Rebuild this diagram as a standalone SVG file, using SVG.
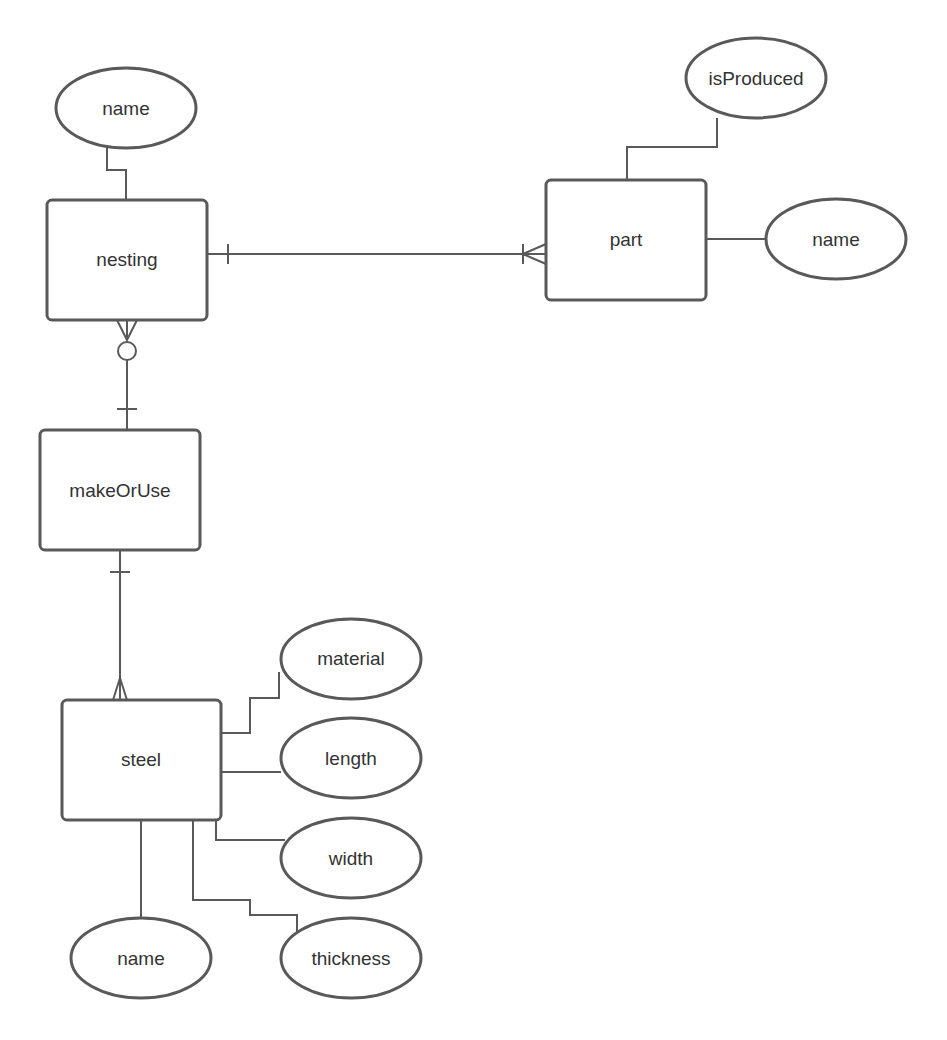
<svg xmlns="http://www.w3.org/2000/svg" width="947" height="1040" viewBox="0 0 947 1040">
<style>
.e{fill:#fff;stroke:#595959;stroke-width:3}
.t{font-family:"Liberation Sans",Arial,sans-serif;font-size:19px;fill:#333;text-anchor:middle;dominant-baseline:central}
.c path,.c circle,.c line{fill:none;stroke:#595959;stroke-width:2}
.c circle{fill:#fff}
</style>
<rect width="947" height="1040" fill="#fff"/>
<g class="c" id="connectors">
<path d="M107,148 V170 H126 V200"/>
<path d="M717,118 V147 H627 V180"/>
<path d="M706,239 H766"/>
<path d="M207,254 H546 M228,244 V264 M523,244 V264 M523,254 L546,244 M523,254 L546,264"/>
<path d="M117,320 L127,340 L137,320 M127,320 V340"/>
<circle cx="127" cy="351" r="9"/>
<path d="M127,360 V430 M117,409 H137"/>
<path d="M120,550 V700 M110,572 H130 M113,700 L120,678 L127,700"/>
<path d="M221,733 H250 V698 H279 V672"/>
<path d="M221,772 H281"/>
<path d="M216,820 V840 H285"/>
<path d="M193,820 V900 H250 V915 H297 V932"/>
<path d="M141,820 V918"/>
</g>
<g id="nesting"><rect class="e" x="47" y="200" width="160" height="120" rx="5"/><text class="t" x="127" y="259">nesting</text></g>
<g id="nesting-name"><ellipse class="e" cx="126" cy="108" rx="70" ry="40"/><text class="t" x="126" y="108">name</text></g>
<g id="part"><rect class="e" x="546" y="180" width="160" height="120" rx="5"/><text class="t" x="626" y="239">part</text></g>
<g id="isProduced"><ellipse class="e" cx="756" cy="78" rx="70" ry="40"/><text class="t" x="756" y="78">isProduced</text></g>
<g id="part-name"><ellipse class="e" cx="836" cy="239" rx="70" ry="40"/><text class="t" x="836" y="239">name</text></g>
<g id="makeOrUse"><rect class="e" x="40" y="430" width="160" height="120" rx="5"/><text class="t" x="120" y="490">makeOrUse</text></g>
<g id="steel"><rect class="e" x="62" y="700" width="159" height="120" rx="5"/><text class="t" x="141" y="759">steel</text></g>
<g id="material"><ellipse class="e" cx="351" cy="659" rx="70" ry="40"/><text class="t" x="351" y="658">material</text></g>
<g id="length"><ellipse class="e" cx="351" cy="758" rx="70" ry="40"/><text class="t" x="351" y="758">length</text></g>
<g id="width"><ellipse class="e" cx="351" cy="858" rx="70" ry="40"/><text class="t" x="351" y="858">width</text></g>
<g id="thickness"><ellipse class="e" cx="351" cy="958" rx="70" ry="40"/><text class="t" x="351" y="958">thickness</text></g>
<g id="steel-name"><ellipse class="e" cx="141" cy="958" rx="70" ry="40"/><text class="t" x="141" y="958">name</text></g>
</svg>
